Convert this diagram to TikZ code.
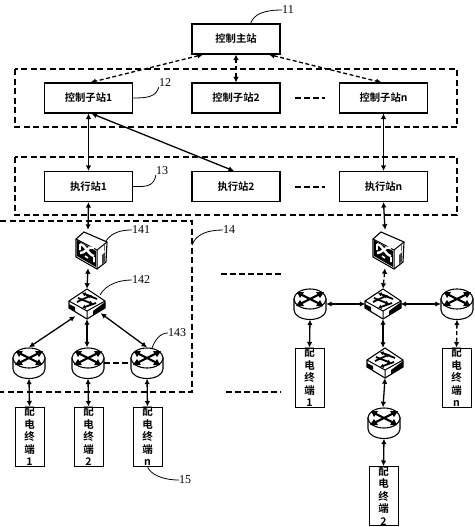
\documentclass[tikz,border=0pt]{standalone}
\usepackage{fontspec}
\setmainfont{Liberation Serif}
\newfontfamily\cjk{Noto Sans CJK SC}[BoldFont={Noto Sans CJK SC Bold}]
\usetikzlibrary{arrows.meta}
\tikzset{
  x=1pt,y=-1pt,
  stationbox/.style={draw,line width=1.1pt,inner sep=0,minimum width=88pt,minimum height=30pt,font=\cjk\bfseries\fontsize{10.3}{11}\selectfont},
  termbox/.style={draw,line width=1pt,inner sep=0,minimum width=29pt,minimum height=59pt,align=center,font=\cjk\bfseries\fontsize{10.5}{12.4}\selectfont},
  link/.style={line width=1.3pt,{Latex[length=5.5pt,width=5.5pt]}-{Latex[length=5.5pt,width=5.5pt]}},
  dlink/.style={link,dash pattern=on 4pt off 2.5pt},
  group/.style={line width=1.1pt,dash pattern=on 6pt off 3.5pt},
  sep/.style={line width=1.2pt,dash pattern=on 6pt off 3pt},
  lead/.style={line width=.8pt},
  num/.style={inner sep=0,font=\fontsize{12}{12}\selectfont},
  body/.style={draw,line width=1.1pt,fill=white},
}
\newcommand{\xarrows}[2]{%
  \begin{scope}[shift={(#1,#2)}]
    \draw[line width=2.2pt] (-10,5)--(10,-5) (-10,-5)--(10,5);
    \fill (-14,7)--(-6,7)--(-10,1)--cycle (14,-7)--(6,-7)--(10,-1)--cycle
          (-13,-7)--(-6,-7)--(-10,-1)--cycle (13,7)--(6,7)--(10,1)--cycle;
  \end{scope}}
\newcommand{\routerdev}[3]{%
  \node[inner sep=0,minimum width=32pt,minimum height=31pt] (#1) at (#2,#3) {};
  \begin{scope}[shift={(#2,#3)}]
    \draw[body] (-16,-5)--(-16,6) arc[start angle=180,end angle=360,x radius=16,y radius=-9.5]--(16,-5)--cycle;
    \draw[body] (0,-5) ellipse[x radius=16,y radius=10];
    \xarrows{0}{-5}
  \end{scope}}
\newcommand{\switchdev}[3]{%
  \node[inner sep=0,minimum width=35pt,minimum height=30pt] (#1) at (#2,#3) {};
  \begin{scope}[shift={(#2,#3)}]
    \draw[body] (-18,-3)--(-18,4)--(0,15)--(18,4)--(18,-3)--(0,-15)--cycle;
    \draw[line width=1pt] (-18,-3)--(0,7)--(18,-3) (0,7)--(0,15);
    \fill (18,-2)--(18,4)--(6,11)--(6,7)--cycle;
    \fill (-18,0)--(-12,3)--(-12,7)--(-18,4)--cycle;
    \draw[line width=1.8pt,-{Latex[length=3.5pt,width=4.5pt]}] (-10,-2)--(5,-9);
    \draw[line width=1.8pt,-{Latex[length=3.5pt,width=4.5pt]}] (10,-5)--(-5,-11);
    \draw[line width=1.8pt,-{Latex[length=3.5pt,width=4.5pt]}] (-9,-6)--(6,0);
    \draw[line width=1.8pt,-{Latex[length=3.5pt,width=4.5pt]}] (9,-1)--(-5,4);
  \end{scope}}
\newcommand{\firewalldev}[3]{%
  \node[inner sep=0,minimum width=31pt,minimum height=38pt] (#1) at (#2,#3) {};
  \begin{scope}[shift={(#2,#3)}]
    \draw[body] (-15,-10)--(-7,-17)--(16,-7)--(15,13)--(6,20)--(-15,8)--cycle;
    \draw[line width=1pt] (-15,-10)--(6,1)--(16,-7) (6,1)--(6,20);
    \fill[black] (-14,-9)--(5,2)--(5,18)--(-14,7)--cycle;
    \draw[white,line width=2.4pt] (-11,-5)..controls (-6,-5) and (-3,6)..(3,7);
    \draw[white,line width=2.4pt] (-11,4)..controls (-6,5) and (-3,-4)..(3,-1);
    \draw[white,line width=1.6pt] (-11,-5)--(-11,1) (3,8)--(3,13) (-6,7)--(-3,9);
    \fill[black!75] (11,6)--(14,3)--(14,12)--(11,15)--cycle;
    \draw[black!60,line width=.7pt] (13,-4)--(13,2);
  \end{scope}}
\begin{document}
\begin{tikzpicture}
\useasboundingbox (0,0) rectangle (474,527);
% groups
\draw[group] (15,69) rectangle (457,127);
\draw[group] (15,157) rectangle (457,215);
\draw[group] (0,221)--(192,221)--(192,392)--(0,392);
% stations
\node[stationbox] (m) at (236,39) {控制主站};
\node[stationbox] (s1) at (88.5,98) {控制子站1};
\node[stationbox] (s2) at (236,98) {控制子站2};
\node[stationbox] (sn) at (383.5,98) {控制子站n};
\node[stationbox] (e1) at (88.5,186.5) {执行站1};
\node[stationbox] (e2) at (236,186.5) {执行站2};
\node[stationbox] (en) at (383.5,186.5) {执行站n};
% devices
\firewalldev{f1}{91}{249}
\switchdev{w1}{87}{304}
\routerdev{r1}{29}{363}
\routerdev{r2}{88}{363}
\routerdev{r3}{147}{363}
\firewalldev{f2}{388}{249}
\switchdev{w2}{383}{304}
\switchdev{w3}{385}{363}
\routerdev{ra}{310}{304}
\routerdev{rb}{457}{304}
\routerdev{rc}{384}{423}
% terminals
\node[termbox] (t1) at (29.5,436.5) {配\\电\\终\\端\\1};
\node[termbox] (t2) at (88.5,436.5) {配\\电\\终\\端\\2};
\node[termbox] (t3) at (147.5,436.5) {配\\电\\终\\端\\n};
\node[termbox] (ta) at (309.5,377.5) {配\\电\\终\\端\\1};
\node[termbox] (tb) at (456.5,377.5) {配\\电\\终\\端\\n};
\node[termbox] (tc) at (383.5,496) {配\\电\\终\\端\\2};
% connectors
\draw[dlink] ([xshift=-33pt]m.south) -- ([xshift=2pt]s1.north);
\draw[dlink] (m.south) -- (s2.north);
\draw[dlink] ([xshift=33pt]m.south) -- ([xshift=-2pt]sn.north);
\draw[link] (s1.south) -- (e1.north);
\draw[link] ([xshift=3pt]s1.south) -- ([xshift=-2pt]e2.north);
\draw[link] (sn.south) -- (en.north);
\draw[link] (e1.south) -- ([xshift=-3pt]f1.north);
\draw[link] ([xshift=-3pt]f1.south) -- (w1.north);
\draw[link] (w1.south west) ++(6,-3) coordinate (a1) (r1.north) coordinate (b1) (a1) -- (b1);
\draw[link] (w1.south) -- ([xshift=-1pt]r2.north);
\draw[link] (w1.south east) ++(-4,-6) coordinate (a2) (r3.north) coordinate (b2) (a2) -- (b2);
\draw[sep] (r2.east) -- (r3.west);
\draw[link] (r1.south) -- (t1.north);
\draw[link] (r2.south) -- (t2.north);
\draw[link] (r3.south) -- (t3.north);
\draw[link] (en.south) -- ([xshift=-3pt]f2.north);
\draw[dlink] ([xshift=-3pt]f2.south) -- (w2.north);
\draw[link] (ra.east) -- (w2.west);
\draw[link] (w2.east) -- (rb.west);
\draw[link] (w2.south) -- ([xshift=-2pt]w3.north);
\draw[link] (w3.south) -- ([xshift=-1pt]rc.north);
\draw[link] (ra.south) -- (ta.north);
\draw[dlink] (rb.south) -- (tb.north);
\draw[link] (rc.south) -- (tc.north);
% separators
\coordinate (d1a) at (295,98); \coordinate (d1b) at (325,98);
\coordinate (d2a) at (295,187); \coordinate (d2b) at (325,187);
\coordinate (d3a) at (221,274); \coordinate (d3b) at (281,274);
\coordinate (d4a) at (226,392); \coordinate (d4b) at (281,392);
\draw[sep] (d1a)--(d1b);
\draw[sep] (d2a)--(d2b);
\draw[sep] (d3a)--(d3b);
\draw[sep] (d4a)--(d4b);
% reference numbers
\node[num] (n11) at (288,10) {11};
\node[num] (n12) at (165,83) {12};
\node[num] (n13) at (162,171) {13};
\node[num] (n141) at (141,230) {141};
\node[num] (n142) at (141,280) {142};
\node[num] (n143) at (177,333) {143};
\node[num] (n14) at (229,230) {14};
\node[num] (n15) at (185,480) {15};
\draw[lead] ([xshift=-30pt]m.north east) ..controls (254,14) and (264,10).. (n11.west);
\draw[lead] (s1.east) ..controls (147,98) and (156,97).. (n12.south west);
\draw[lead] (e1.east) ..controls (147,187) and (154,186).. (n13.south west);
\draw[lead] (106,241) ..controls (112,232) and (122,230).. (n141.west);
\draw[lead] (100,295) ..controls (106,284) and (120,280).. (n142.west);
\draw[lead] (152,348) ..controls (155,340) and (160,333).. (n143.west);
\draw[lead] (192,245) ..controls (196,234) and (208,230).. (n14.west);
\draw[lead] (t3.south) ..controls (150,474) and (162,480).. (n15.west);
\end{tikzpicture}
\end{document}
